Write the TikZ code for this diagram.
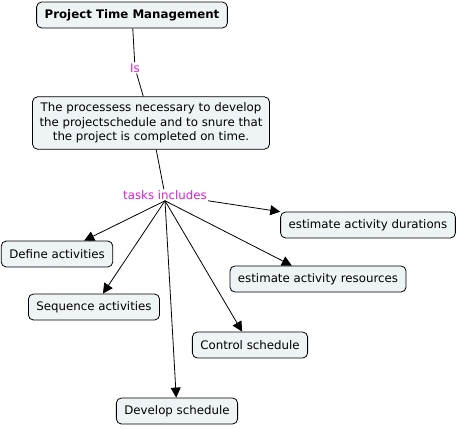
\documentclass[tikz,border=0pt]{standalone}
\usepackage{fontspec}
\setmainfont{DejaVu Sans}
\usetikzlibrary{arrows.meta}

\definecolor{boxfill}{RGB}{238,243,245}
\definecolor{linklabel}{RGB}{220,30,220}

\tikzset{
	concept/.style = {draw, fill = boxfill, rounded corners = 5pt, line width = 0.8pt,
		inner xsep = 8pt, minimum height = 26pt, font = \fontsize{11.8}{14.5}\selectfont},
	linkword/.style = {text = linklabel, inner sep = 1pt, font = \fontsize{11.8}{14}\selectfont},
	conn/.style = {line width = 0.8pt},
	arr/.style = {conn, -{Triangle[length = 10pt, width = 10pt]}}
}

\begin{document}
\begin{tikzpicture}[x = 1pt, y = -1pt]
	\useasboundingbox (0,0) rectangle (460,428);

	\draw[color = black]
	(132,15) node[concept, font = \fontsize{11.8}{14}\selectfont\bfseries](PTM){Project Time Management}	%top
	(135,68) node[linkword](Is){Is}
	(151,123) node[concept, align = center, inner xsep = 7pt, inner ysep = 6pt](Proc){The processess necessary to develop\\the projectschedule and to snure that\\the project is completed on time.}
	(165,195) node[linkword](Tasks){tasks includes}

	(368,225) node[concept](Dur){estimate activity durations}
	(57,254) node[concept](Def){Define activities}
	(318,279) node[concept](Res){estimate activity resources}
	(94,307) node[concept](Seq){Sequence activities}
	(250,345) node[concept](Ctrl){Control schedule}
	(177,411) node[concept](Dev){Develop schedule};

	\draw[conn] (PTM) -- (Is) (Is) -- (Proc) (Proc) -- (Tasks);

	\draw[arr] (Tasks.south) -- (Def);
	\draw[arr] (Tasks.south) -- (Seq);
	\draw[arr] (Tasks.south) -- (Dev);
	\draw[arr] (Tasks.south) -- (Ctrl);
	\draw[arr] (Tasks.south) -- (Res);
	\draw[arr] (Tasks.south east) -- (Dur);
\end{tikzpicture}
\end{document}
